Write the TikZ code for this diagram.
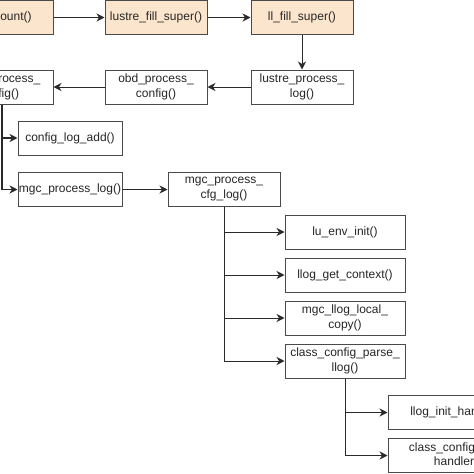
\documentclass[tikz,border=0pt]{standalone}
\usepackage{fontspec}
\setmainfont{Liberation Sans}
\usetikzlibrary{arrows.meta}
\definecolor{peach}{HTML}{FCE5CD}
\definecolor{edge}{HTML}{2A2A2A}
\definecolor{boxline}{HTML}{4A4A4A}
\begin{document}
\begin{tikzpicture}[x=1pt,y=-1pt,
  fbox/.style={draw=boxline,line width=1pt,fill=white,minimum height=34pt,minimum width=102pt,
    inner sep=0pt,align=center,text=black!85,font=\fontsize{12}{14.3}\selectfont},
  hot/.style={fbox,fill=peach},
  arr/.style={draw=edge,line width=1pt,-{Stealth[length=8pt,width=8pt,inset=2.5pt]}}]
\useasboundingbox (0,0) rectangle (474,474);
\clip (0,0) rectangle (474,474);
\fill[white] (0,0) rectangle (474,474);
% top row
\node[hot,minimum width=120pt] (lm) at (-7,17.5) {lustre\_mount()};
\node[hot] (lfs) at (156,17.5) {lustre\_fill\_super()};
\node[hot] (llfs) at (302,17.5) {ll\_fill\_super()};
% second row
\node[fbox,minimum width=108pt] (cpc) at (-1,87) {class\_process\_\\config()};
\node[fbox] (opc) at (156,87) {obd\_process\_\\config()};
\node[fbox] (lpl) at (302,87) {lustre\_process\_\\log()};
\coordinate (cpcout) at ([xshift=3pt]cpc.south);
% left column
\node[fbox,minimum width=104pt] (cla) at (70,138) {config\_log\_add()};
\node[fbox,minimum width=104pt] (mpl) at (70,189.5) {mgc\_process\_log()};
\node[fbox,minimum width=112pt] (mpcl) at (224,189) {mgc\_process\_\\cfg\_log()};
% right column
\node[fbox,minimum width=120pt] (lei) at (345,232) {lu\_env\_init()};
\node[fbox,minimum width=120pt] (lgc) at (345,275) {llog\_get\_context()};
\node[fbox,minimum width=120pt] (mllc) at (345,318) {mgc\_llog\_local\_\\copy()};
\node[fbox,minimum width=120pt] (ccpl) at (345,361) {class\_config\_parse\_\\llog()};
% bottom right
\node[fbox,minimum width=140pt] (lih) at (458,412.5) {llog\_init\_handler()};
\node[fbox,minimum width=140pt] (cclh) at (458,455.5) {class\_config\_llog\_\\handler()};
% connectors
\draw[arr] (lm) -- (lfs);
\draw[arr] (lfs) -- (llfs);
\draw[arr] (llfs) -- (lpl);
\draw[arr] (lpl) -- (opc);
\draw[arr] (opc) -- (cpc);
\draw[arr,line width=1.6pt] (cpcout) |- (cla.west);
\draw[arr,line width=1.6pt] (cpcout) |- (mpl.west);
\draw[arr] (mpl.east) -- (mpcl.west |- mpl.east);
\draw[arr] (mpcl.south) |- (lei.west);
\draw[arr] (mpcl.south) |- (lgc.west);
\draw[arr] (mpcl.south) |- (mllc.west);
\draw[arr] (mpcl.south) |- (ccpl.west);
\draw[arr] (ccpl.south) |- (lih.west);
\draw[arr] (ccpl.south) |- (cclh.west);
\end{tikzpicture}
\end{document}
